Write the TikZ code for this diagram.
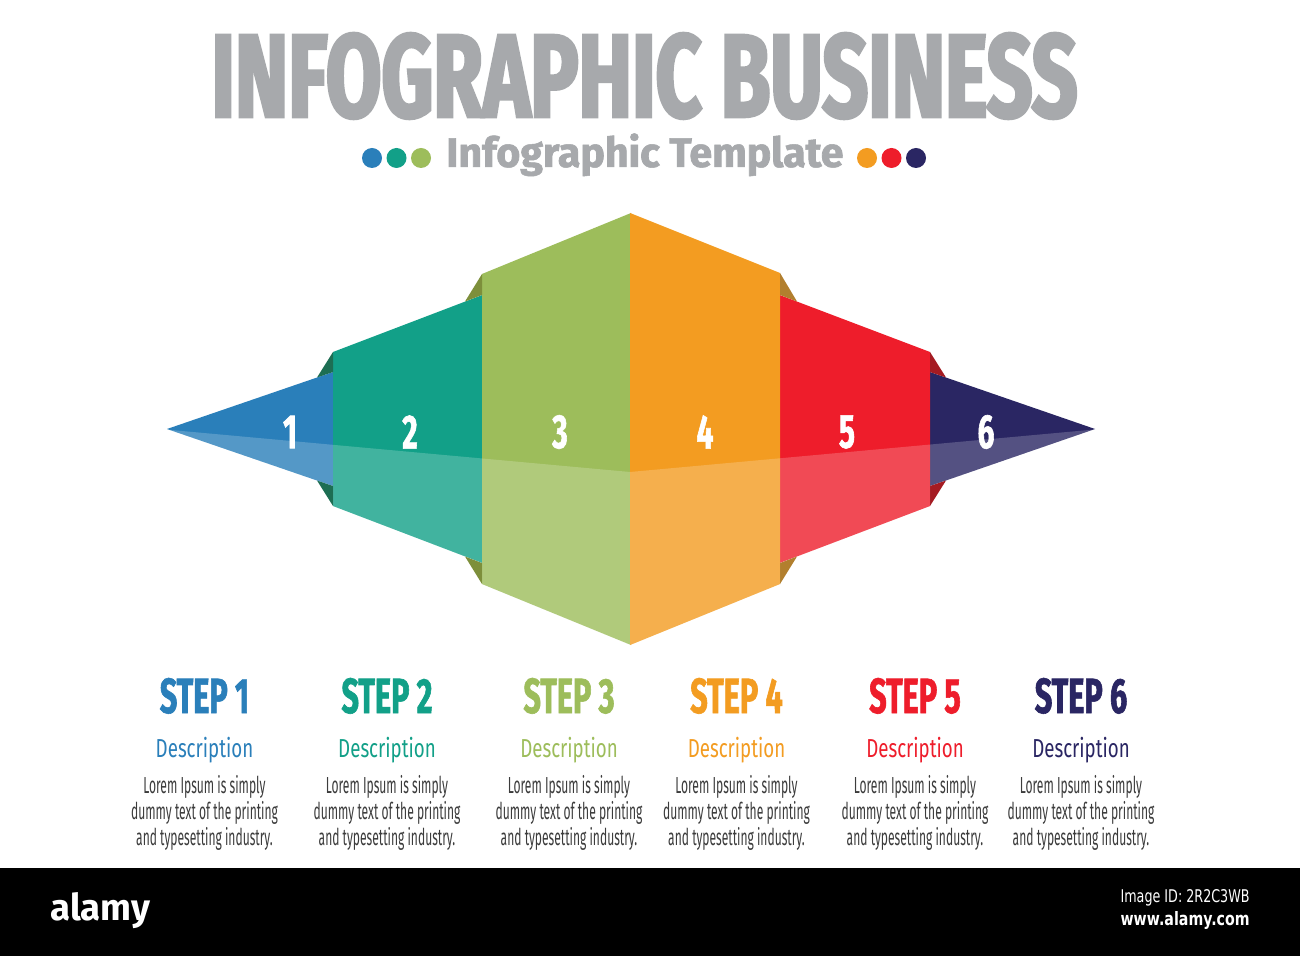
\documentclass[tikz,border=0pt]{standalone}
\usepackage{fontspec}
\setmainfont{Fira Sans}
\newfontfamily\myBold[FakeStretch=0.62, BoldFeatures={FakeBold=1.2}]{Fira Sans}
\newfontfamily\myTitle[FakeStretch=0.56, BoldFeatures={FakeBold=2.2}]{Fira Sans}
\newfontfamily\myLogo[FakeStretch=0.64]{Fira Sans}
\newfontfamily\myDesc[FakeStretch=0.72]{Fira Sans}
\newfontfamily\myBody[FakeStretch=0.52]{Fira Sans}
\newfontfamily\myBar{DejaVu Sans}
\definecolor{cA}{HTML}{2A7FBA}
\definecolor{cB}{HTML}{12A088}
\definecolor{cC}{HTML}{9DBD5B}
\definecolor{cD}{HTML}{F39C21}
\definecolor{cE}{HTML}{EE1D2B}
\definecolor{cF}{HTML}{2A2663}
\definecolor{fAB}{HTML}{1D6E53}
\definecolor{fBC}{HTML}{7D8F3B}
\definecolor{fDE}{HTML}{B27F2E}
\definecolor{fEF}{HTML}{A51B22}
\definecolor{titlegray}{HTML}{A7A9AC}
\definecolor{bodygray}{HTML}{3C3C3C}
\tikzset{
  num/.style={inner sep=0pt, text=white, font=\myBold\bfseries\fontsize{24}{24}\selectfont},
  steplabel/.style={inner sep=0pt, anchor=base, font=\myBold\bfseries\fontsize{24.7}{25}\selectfont},
  desclabel/.style={inner sep=0pt, anchor=base, font=\myDesc\fontsize{13}{13}\selectfont},
  bodyline/.style={inner sep=0pt, anchor=base, text=bodygray, font=\myBody\fontsize{11.6}{13}\selectfont},
  dot/.style={inner sep=0pt, minimum size=10pt, circle},
  bartext/.style={inner sep=0pt, anchor=base east, text=white}
}
\begin{document}
\begin{tikzpicture}[x=0.5pt,y=-0.5pt]
\useasboundingbox (0,0) rectangle (1300,956);
\fill[white] (0,0) rectangle (1300,956);
\fill[black] (0,868) rectangle (1300,956);

% title
\node[inner sep=0pt, anchor=base west, text=titlegray] (title) at (211,117)
  {\resizebox{433pt}{42pt}{\myTitle\bfseries INFOGRAPHIC BUSINESS}};
\node[inner sep=0pt, anchor=base west, text=titlegray] (subtitle) at (446,167)
  {\resizebox{198.5pt}{16.8pt}{\myBold\bfseries Infographic Template}};
\node[dot, fill=cA] (d1) at (372,158) {};
\node[dot, fill=cB] (d2) at (396.5,158) {};
\node[dot, fill=cC] (d3) at (421,158) {};
\node[dot, fill=cD] (d4) at (867,158) {};
\node[dot, fill=cE] (d5) at (891.5,158) {};
\node[dot, fill=cF] (d6) at (916,158) {};

% bands (outer first)
\fill[cA] (167,429) -- (336,371) -- (336,487) -- cycle;
\fill[cF] (1095,429) -- (927,371) -- (927,487) -- cycle;
\fill[cB] (333,352) -- (485,294) -- (485,564) -- (333,506) -- cycle;
\fill[cE] (930,352) -- (777,294) -- (777,564) -- (930,506) -- cycle;
\fill[cC] (482,274) -- (631,213) -- (631,645) -- (482,584) -- cycle;
\fill[cD] (630,213) -- (780,273) -- (780,584) -- (630,645) -- cycle;
% folds
\fill[fAB] (317,377.5) -- (333,352) -- (333,372) -- cycle;
\fill[fAB] (317,480.5) -- (333,506) -- (333,486) -- cycle;
\fill[fBC] (465,301.5) -- (482,274) -- (482,295) -- cycle;
\fill[fBC] (465,556.5) -- (482,584) -- (482,563) -- cycle;
\fill[fDE] (797,301.5) -- (780,273) -- (780,295) -- cycle;
\fill[fDE] (797,556.5) -- (780,584) -- (780,563) -- cycle;
\fill[fEF] (946,377.5) -- (930,352) -- (930,372) -- cycle;
\fill[fEF] (946,480.5) -- (930,506) -- (930,486) -- cycle;
% lighter lower half
\begin{scope}
\clip (160,429) -- (630,472) -- (1100,429) -- (1100,660) -- (160,660) -- cycle;
\fill[white, opacity=0.2] (167,429) -- (333,372) -- (333,352) -- (482,295) -- (482,274) -- (630,213)
  -- (780,273) -- (780,295) -- (930,352) -- (930,372) -- (1095,429) -- (930,486) -- (930,506)
  -- (780,563) -- (780,584) -- (630,645) -- (482,584) -- (482,563) -- (333,506) -- (333,486) -- cycle;
\end{scope}

% numbers
\node[num] (n1) at (290,432) {1};
\node[num] (n2) at (410,432) {2};
\node[num] (n3) at (560,432) {3};
\node[num] (n4) at (705,432) {4};
\node[num] (n5) at (847,432) {5};
\node[num] (n6) at (986,432) {6};

% steps
\foreach \i/\x/\c in {1/204.5/cA, 2/387/cB, 3/569/cC, 4/736.5/cD, 5/915/cE, 6/1081/cF}{
  \node[steplabel, text=\c] (s\i) at (\x,713) {STEP \i};
  \node[desclabel, text=\c] (e\i) at (\x,757) {Description};
  \node[bodyline] (la\i) at (\x,793) {Lorem Ipsum is simply};
  \node[bodyline] (lb\i) at (\x,819) {dummy text of the printing};
  \node[bodyline] (lc\i) at (\x,845) {and typesetting industry.};
}

% bottom bar
\node[inner sep=0pt, anchor=base west, text=white] (logo) at (50,920)
  {\resizebox{50pt}{14pt}{\myLogo\bfseries alamy}};
\node[bartext] (imgid) at (1250,902) {\resizebox{64.5pt}{6.5pt}{\myBar Image ID: 2R2C3WB}};
\node[bartext] (url) at (1250,925) {\resizebox{64.5pt}{7pt}{\myBar\bfseries www.alamy.com}};
\end{tikzpicture}
\end{document}
